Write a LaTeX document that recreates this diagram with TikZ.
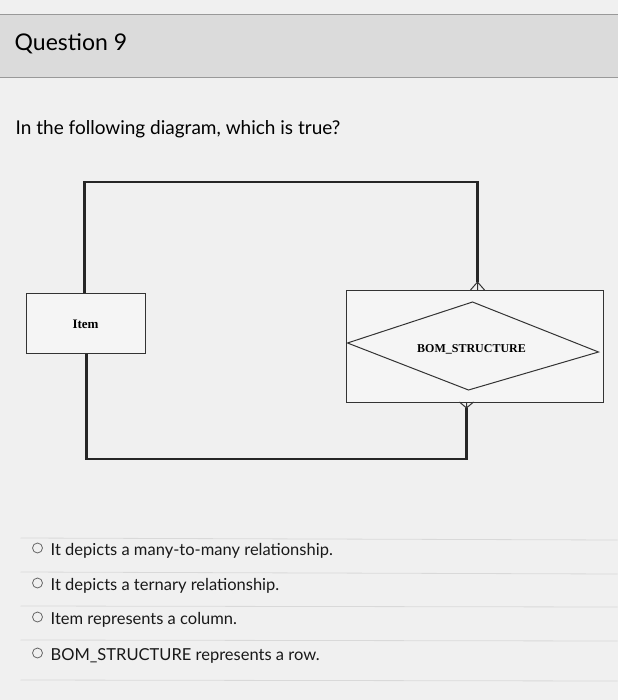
\documentclass[tikz,border=0pt]{standalone}
\usepackage{fontspec}
\setmainfont{Lato}
\newfontfamily\serifer{Liberation Serif}
\begin{document}
\begin{tikzpicture}[x=1pt,y=-1pt,
  rel/.style={line width=2.6pt,draw=black!85},
  thin/.style={line width=1pt,draw=black!80},
  sep/.style={draw=black!15,line width=0.8pt},
  opt/.style={anchor=west,font=\fontsize{16.5}{19}\selectfont,text=black!90,inner sep=0},
  radio/.style={circle,draw=black!60,line width=0.8pt,minimum size=10pt,inner sep=0}]
\fill[black!6] (0,0) rectangle (617,700);
\fill[black!14] (0,15) rectangle (617,78);
\draw[black!40,line width=1pt] (0,15) -- (617,15);
\draw[black!40,line width=1pt] (0,78) -- (617,78);
\node[anchor=west,inner sep=0,font=\fontsize{23}{27}\selectfont] (title) at (14,44) {Question 9};
\node[anchor=west,inner sep=0,font=\fontsize{19}{23}\selectfont] (q) at (15,129) {In the following diagram, which is true?};
% entities
\node[thin,draw,minimum width=119pt,minimum height=60pt,anchor=north west,fill=black!4] (item) at (25,293) {};
\node[font=\serifer\bfseries\fontsize{13}{15}\selectfont] at (85,324) {Item};
\node[thin,draw,minimum width=257pt,minimum height=112pt,anchor=north west,fill=black!4] (box) at (345,290) {};
\coordinate (dl) at (347,343); \coordinate (dt) at (472,302);
\coordinate (dr) at (598,352); \coordinate (db) at (468,390);
\draw[thin] (dl) -- (dt) -- (dr) -- (db) -- cycle;
\node[font=\serifer\bfseries\fontsize{12}{14}\selectfont] (rel) at (471,349) {BOM\_STRUCTURE};
% connectors
\coordinate (a1) at (84,182); \coordinate (a2) at (477,182); \coordinate (a3) at (477,282);
\coordinate (b1) at (86,459); \coordinate (b2) at (466,459); \coordinate (b3) at (466,408);
\draw[rel] (item.north -| 84,0) -- (a1) -- (a2) -- (a3);
\draw[rel] (item.south -| 86,0) -- (b1) -- (b2) -- (b3);
\draw[thin] (a3) -- (477,290) (a3) -- (470,290) (a3) -- (484,290);
\draw[thin] (b3) -- (466,402) (b3) -- (459,402) (b3) -- (473,402);
% options
\draw[sep] (20,538) -- (617,540);
\draw[sep] (20,572) -- (617,574);
\draw[sep] (20,606) -- (617,607);
\draw[sep] (20,640) -- (617,641);
\draw[sep] (20,680) -- (617,681);
\node[radio] (r1) at (37,548) {}; \node[opt] at (50,551) {It depicts a many-to-many relationship.};
\node[radio] (r2) at (37,583) {}; \node[opt] at (50,586) {It depicts a ternary relationship.};
\node[radio] (r3) at (37,617) {}; \node[opt] at (50,620) {Item represents a column.};
\node[radio] (r4) at (37,653) {}; \node[opt] at (50,656) {BOM\_STRUCTURE represents a row.};
\end{tikzpicture}
\end{document}
